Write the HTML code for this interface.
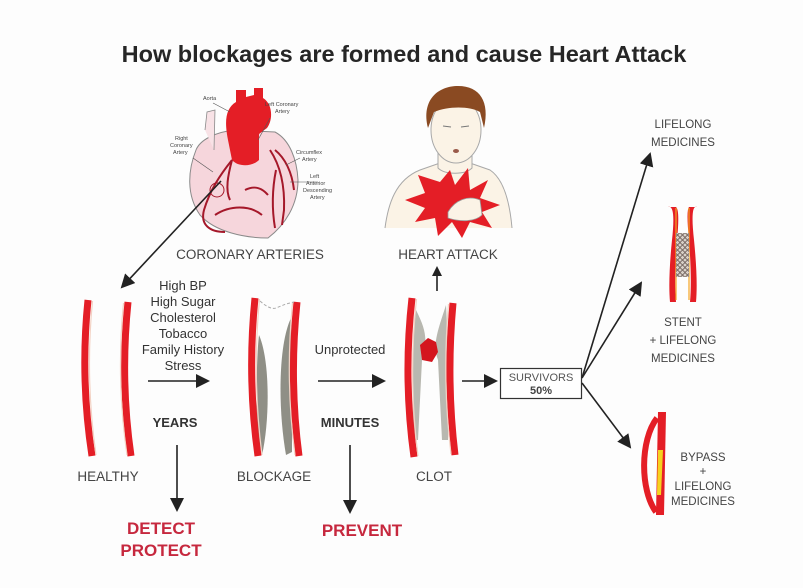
<!DOCTYPE html>
<html><head><meta charset="utf-8"><style>
html,body{margin:0;padding:0;background:#fdfdfd;}
svg{display:block;}
text{font-family:"Liberation Sans",Arial,sans-serif;}
</style></head><body>
<svg width="803" height="588" viewBox="0 0 803 588" xmlns="http://www.w3.org/2000/svg">
<defs>
<marker id="ah" markerWidth="10" markerHeight="10" refX="8" refY="5" orient="auto" markerUnits="userSpaceOnUse">
<path d="M0,0 L10,5 L0,10 Z" fill="#222"/>
</marker>
<marker id="ahb" markerWidth="14" markerHeight="14" refX="12" refY="7" orient="auto" markerUnits="userSpaceOnUse">
<path d="M0,0 L14,7 L0,14 Z" fill="#222"/>
</marker>
<pattern id="mesh" width="5" height="5" patternUnits="userSpaceOnUse">
<rect width="5" height="5" fill="#d8d0c8"/>
<path d="M0,2.5 L2.5,0 L5,2.5 L2.5,5 Z" fill="none" stroke="#6a5a55" stroke-width="0.8"/>
</pattern>
</defs>
<rect width="803" height="588" fill="#fdfdfd"/>

<text x="404" y="62" text-anchor="middle" font-size="23.5" font-weight="bold" fill="#262626">How blockages are formed and cause Heart Attack</text>

<!-- Heart -->
<g>
<path d="M196,150 C188,170 186,195 200,215 C215,232 245,238 268,238 C285,225 298,205 298,180 C297,160 290,140 275,132 L235,130 C215,132 200,140 196,150 Z" fill="#f6d6dc" stroke="#8a8a8a" stroke-width="1"/>
<path d="M205,130 L207,112 L215,110 L214,150" fill="#f8e2e6" stroke="#8a8a8a" stroke-width="0.8"/>
<path d="M236,102 L236,90 L246,90 L246,97 L254,95 L254,88 L263,88 L263,98 C273,104 273,120 267,128 L259,134 L259,160 C252,167 238,167 232,160 L228,140 C224,120 226,108 236,102 Z" fill="#e41e26"/>
<g fill="none" stroke="#a5182a" stroke-width="2">
<path d="M232,160 C220,175 210,190 204,210 C200,225 210,232 225,232"/>
<path d="M232,160 C228,175 225,190 230,200"/>
<path d="M270,150 C280,165 285,185 284,210 L282,225"/>
<path d="M276,170 C272,190 272,210 275,228"/>
<path d="M275,150 C285,158 292,172 294,190"/>
<path d="M215,215 C230,205 250,205 262,215"/>
<path d="M245,190 C255,185 262,188 268,195"/>
</g>
<circle cx="217" cy="190" r="7" fill="none" stroke="#a5182a" stroke-width="1"/>
<g stroke="#555" stroke-width="0.6">
<line x1="213" y1="103" x2="230" y2="112"/>
<line x1="270" y1="118" x2="258" y2="140"/>
<line x1="193" y1="158" x2="213" y2="172"/>
<line x1="300" y1="158" x2="286" y2="165"/>
<line x1="318" y1="182" x2="290" y2="182"/>
</g>
<g font-size="5.5" fill="#444">
<text x="203" y="100">Aorta</text>
<text x="265" y="106">Left Coronary</text>
<text x="275" y="113">Artery</text>
<text x="175" y="140">Right</text>
<text x="170" y="147">Coronary</text>
<text x="173" y="154">Artery</text>
<text x="296" y="154">Circumflex</text>
<text x="302" y="161">Artery</text>
<text x="310" y="178">Left</text>
<text x="306" y="185">Anterior</text>
<text x="303" y="192">Descending</text>
<text x="310" y="199">Artery</text>
</g>
</g>
<text x="250" y="259" text-anchor="middle" font-size="13.5" fill="#444">CORONARY ARTERIES</text>

<line x1="221" y1="181" x2="122" y2="287" stroke="#222" stroke-width="1.6" marker-end="url(#ahb)"/>

<!-- Person -->
<g>
<path d="M385,228 C388,205 395,180 420,170 L440,163 L470,163 L490,170 C505,180 510,205 512,228" fill="#fbf3e6" stroke="#a8a8a8" stroke-width="1"/>
<path d="M438,150 L438,168 C445,175 465,175 472,168 L472,150 Z" fill="#fbf3e6" stroke="#a8a8a8" stroke-width="1"/>
<ellipse cx="456" cy="130" rx="25" ry="33" fill="#fbf3e6" stroke="#a8a8a8" stroke-width="1"/>
<path d="M428,128 C421,100 438,86 458,86 C480,86 490,102 484,128 L480,112 C470,106 448,106 434,112 Z" fill="#8a4a22"/>
<line x1="443" y1="126" x2="451" y2="127" stroke="#777" stroke-width="1"/>
<line x1="461" y1="127" x2="469" y2="126" stroke="#777" stroke-width="1"/>
<ellipse cx="456" cy="151" rx="3" ry="2" fill="#9a5a4a"/>
<path d="M440,182 L450,170 L455,185 L468,168 L470,190 L488,180 L480,198 L500,205 L482,212 L492,228 L470,222 L462,238 L452,222 L438,236 L435,218 L415,222 L425,208 L405,200 L425,193 L418,175 Z" fill="#e41e26"/>
<path d="M448,212 C455,200 468,195 480,200 L482,215 C475,222 460,222 448,218 Z" fill="#fbf3e6" stroke="#999" stroke-width="0.8"/>
</g>
<text x="448" y="259" text-anchor="middle" font-size="13.5" fill="#444">HEART ATTACK</text>
<line x1="437" y1="291" x2="437" y2="268" stroke="#222" stroke-width="1.6" marker-end="url(#ah)"/>

<!-- Healthy vessel -->
<g fill="none" stroke-linecap="butt">
<path d="M88,300 Q80,378 92,456" stroke="#e41e26" stroke-width="7"/>
<path d="M92.5,301 Q85,378 96,455" stroke="#f3d2c4" stroke-width="1.2"/>
<path d="M128,302 Q120,380 131,456" stroke="#e41e26" stroke-width="7"/>
<path d="M123.5,303 Q116,380 127,455" stroke="#f3d2c4" stroke-width="1.2"/>
</g>
<text x="108" y="481" text-anchor="middle" font-size="13.5" fill="#444">HEALTHY</text>

<g font-size="13" fill="#333" text-anchor="middle">
<text x="183" y="290">High BP</text>
<text x="183" y="306">High Sugar</text>
<text x="183" y="322">Cholesterol</text>
<text x="183" y="338">Tobacco</text>
<text x="183" y="354">Family History</text>
<text x="183" y="370">Stress</text>
</g>
<line x1="148" y1="381" x2="208" y2="381" stroke="#222" stroke-width="1.6" marker-end="url(#ahb)"/>
<text x="175" y="427" text-anchor="middle" font-size="13" font-weight="bold" fill="#333">YEARS</text>
<line x1="177" y1="445" x2="177" y2="510" stroke="#222" stroke-width="1.6" marker-end="url(#ahb)"/>
<g font-size="17" font-weight="bold" fill="#c6283e" text-anchor="middle">
<text x="161" y="534">DETECT</text>
<text x="161" y="556">PROTECT</text>
</g>

<!-- Blockage vessel -->
<path d="M259,335 C270,360 270,420 262,455 L258,455 C256,420 256,360 259,335 Z" fill="#8f8f86"/>
<path d="M291,318 C278,345 278,410 286,455 L292,452 C292,410 292,350 291,318 Z" fill="#8f8f86"/>
<g fill="none">
<path d="M255,298 Q247,378 258,456" stroke="#e41e26" stroke-width="7"/>
<path d="M259.5,299 Q252,378 262,455" stroke="#f3d2c4" stroke-width="1.2"/>
<path d="M297,302 Q289,380 299,456" stroke="#e41e26" stroke-width="7"/>
<path d="M292.5,303 Q285,380 295,455" stroke="#f3d2c4" stroke-width="1.2"/>
<path d="M260,301 Q270,310 276,308 L286,304 L294,302" stroke="#aaa" stroke-width="1" stroke-dasharray="3,2"/>
</g>
<text x="274" y="481" text-anchor="middle" font-size="13.5" fill="#444">BLOCKAGE</text>

<text x="350" y="354" text-anchor="middle" font-size="13" fill="#333">Unprotected</text>
<line x1="318" y1="381" x2="384" y2="381" stroke="#222" stroke-width="1.6" marker-end="url(#ahb)"/>
<text x="350" y="427" text-anchor="middle" font-size="13" font-weight="bold" fill="#333">MINUTES</text>
<line x1="350" y1="445" x2="350" y2="512" stroke="#222" stroke-width="1.6" marker-end="url(#ahb)"/>
<text x="362" y="536" text-anchor="middle" font-size="17" font-weight="bold" fill="#c6283e">PREVENT</text>

<!-- Clot vessel -->
<path d="M416,310 C426,330 428,340 422,360 L418,440 L414,440 C412,400 412,340 416,310 Z" fill="#b8b8b0"/>
<path d="M446,305 C438,330 432,345 438,360 L442,440 L448,440 C449,400 448,340 446,305 Z" fill="#b8b8b0"/>
<path d="M420,345 L428,338 L436,342 L438,352 L432,362 L422,360 Z" fill="#d4141e"/>
<g fill="none">
<path d="M412,298 Q403,378 414,457" stroke="#e41e26" stroke-width="7"/>
<path d="M416.5,299 Q408,378 418,456" stroke="#f3d2c4" stroke-width="1.2"/>
<path d="M453,303 Q446,380 455,455" stroke="#e41e26" stroke-width="7"/>
<path d="M448.5,304 Q442,380 451,454" stroke="#f3d2c4" stroke-width="1.2"/>
</g>
<text x="434" y="481" text-anchor="middle" font-size="13.5" fill="#444">CLOT</text>

<line x1="462" y1="381" x2="496" y2="381" stroke="#222" stroke-width="1.6" marker-end="url(#ahb)"/>
<rect x="500.5" y="368.5" width="81" height="30" fill="#fff" stroke="#333" stroke-width="1.2"/>
<text x="541" y="381" text-anchor="middle" font-size="11" fill="#555">SURVIVORS</text>
<text x="541" y="394" text-anchor="middle" font-size="11" font-weight="bold" fill="#444">50%</text>

<!-- fan arrows -->
<line x1="582" y1="378" x2="650" y2="154" stroke="#222" stroke-width="1.6" marker-end="url(#ahb)"/>
<line x1="582" y1="378" x2="641" y2="283" stroke="#222" stroke-width="1.6" marker-end="url(#ahb)"/>
<line x1="582" y1="383" x2="630" y2="447" stroke="#222" stroke-width="1.6" marker-end="url(#ahb)"/>

<g font-size="11.5" fill="#444" text-anchor="middle">
<text x="683" y="128">LIFELONG</text>
<text x="683" y="146">MEDICINES</text>
<text x="683" y="326">STENT</text>
<text x="683" y="344">+ LIFELONG</text>
<text x="683" y="362">MEDICINES</text>
<text x="703" y="461">BYPASS</text>
<text x="703" y="475">+</text>
<text x="703" y="490">LIFELONG</text>
<text x="703" y="505">MEDICINES</text>
</g>

<!-- Stent -->
<g>
<path d="M668,207 Q676,204 672,240 Q668,280 670,302 L676,302 Q674,280 677,240 Q680,210 676,207 Z" fill="#e41e26"/>
<path d="M697,207 Q690,204 694,240 Q698,280 696,302 L690,302 Q692,280 689,240 Q686,210 689,207 Z" fill="#e41e26"/>
<path d="M676,208 L676,300 M689,208 L689,300" stroke="#f5a623" stroke-width="1.2"/>
<rect x="676" y="233" width="13" height="44" fill="url(#mesh)"/>
</g>

<!-- Bypass -->
<g>
<path d="M658,412 L666,412 L664,515 L656,515 Z" fill="#e41e26"/>
<path d="M657,418 C640,440 640,490 656,512" fill="none" stroke="#e41e26" stroke-width="6"/>
<path d="M658,450 L663,450 L661,495 L657,495 Z" fill="#f5d21e"/>
</g>
</svg>
</body></html>
